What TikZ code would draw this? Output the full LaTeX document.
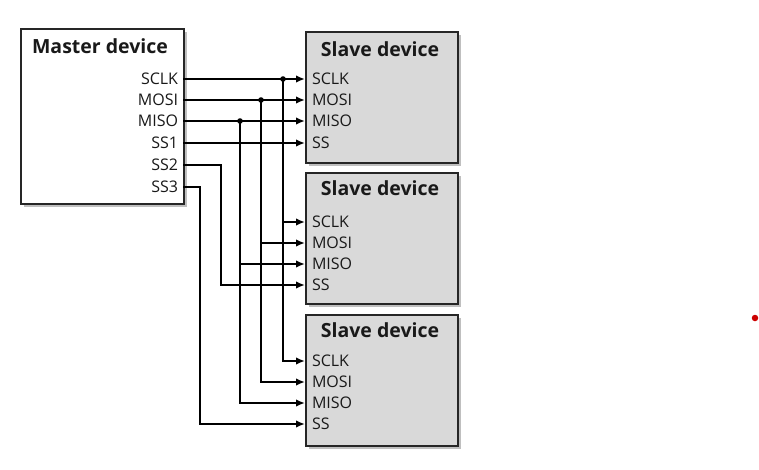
\documentclass[tikz,border=0pt]{standalone}
\usepackage{fontspec}
\setmainfont{Open Sans}
\usetikzlibrary{arrows.meta,shadows}

\begin{document}
\begin{tikzpicture}[x=1pt,y=-1pt]
  \tikzset{MasterStyle/.style = {
    shape         = rectangle,
    draw          = black!85,
    fill          = white,
    line width    = 2pt,
    anchor        = north west,
    minimum width = 163pt,
    minimum height= 175pt,
    drop shadow   = {opacity=0.5, shadow xshift=3pt, shadow yshift=-3pt}
    }
  }
  \tikzset{SlaveStyle/.style = {
    MasterStyle,
    fill          = black!15,
    minimum width = 152pt,
    minimum height= 131pt
    }
  }
  \tikzset{TitleStyle/.style = {
    font          = \fontsize{19.5}{22}\selectfont\bfseries,
    text          = black!90,
    inner sep     = 0pt
    }
  }
  \tikzset{OutPinStyle/.style = {
    font          = \fontsize{16}{18}\selectfont,
    text          = black!90,
    anchor        = east,
    inner xsep    = 5pt,
    inner ysep    = 0pt,
    outer sep     = 0pt
    }
  }
  \tikzset{InPinStyle/.style = {
    OutPinStyle,
    anchor        = west,
    inner xsep    = 7pt
    }
  }
  \tikzset{EdgeStyle/.style = {
    draw          = black,
    line width    = 2.2pt,
    -{Latex[length=9pt,width=7.5pt]}
    }
  }
  \tikzset{DotStyle/.style = {
    fill          = black
    }
  }

  \useasboundingbox (0,0) rectangle (759,469);

	% boxes
	\node[MasterStyle](M) at (20, 28) {};
	\node[SlaveStyle](Sa) at (305, 31) {};
	\node[SlaveStyle](Sb) at (305, 172) {};
	\node[SlaveStyle](Sc) at (305, 314) {};
	\node[TitleStyle](MT) at (100, 46) {Master device};
	\node[TitleStyle](SaT) at (380, 49) {Slave device};
	\node[TitleStyle](SbT) at (380, 188) {Slave device};
	\node[TitleStyle](ScT) at (380, 330) {Slave device};

	% master pins
	\node[OutPinStyle](MClk) at (183, 79) {SCLK};
	\node[OutPinStyle](MMosi) at (183, 100) {MOSI};
	\node[OutPinStyle](MMiso) at (183, 121) {MISO};
	\node[OutPinStyle](MSsOne) at (183, 143) {SS1};
	\node[OutPinStyle](MSsTwo) at (183, 165) {SS2};
	\node[OutPinStyle](MSsThree) at (183, 187) {SS3};

	% slave pins
	\node[InPinStyle](SaClk) at (305, 79) {SCLK};
	\node[InPinStyle](SaMosi) at (305, 100) {MOSI};
	\node[InPinStyle](SaMiso) at (305, 121) {MISO};
	\node[InPinStyle](SaSs) at (305, 143) {SS};
	\node[InPinStyle](SbClk) at (305, 222) {SCLK};
	\node[InPinStyle](SbMosi) at (305, 243) {MOSI};
	\node[InPinStyle](SbMiso) at (305, 264) {MISO};
	\node[InPinStyle](SbSs) at (305, 285) {SS};
	\node[InPinStyle](ScClk) at (305, 361) {SCLK};
	\node[InPinStyle](ScMosi) at (305, 382) {MOSI};
	\node[InPinStyle](ScMiso) at (305, 403) {MISO};
	\node[InPinStyle](ScSs) at (305, 424) {SS};

	% bus columns
	\coordinate (ClkBus) at (283, 0);
	\coordinate (MosiBus) at (261, 0);
	\coordinate (MisoBus) at (240, 0);
	\coordinate (SsTwoBus) at (221, 0);
	\coordinate (SsThreeBus) at (200, 0);

	\draw[EdgeStyle](MClk.east) -- (SaClk.west);
	\draw[EdgeStyle](MMosi.east) -- (SaMosi.west);
	\draw[EdgeStyle](MMiso.east) -- (SaMiso.west);
	\draw[EdgeStyle](MSsOne.east) -- (SaSs.west);
	\draw[EdgeStyle](ClkBus |- MClk.east) |- (SbClk.west);
	\draw[EdgeStyle](ClkBus |- MClk.east) |- (ScClk.west);
	\draw[EdgeStyle](MosiBus |- MMosi.east) |- (SbMosi.west);
	\draw[EdgeStyle](MosiBus |- MMosi.east) |- (ScMosi.west);
	\draw[EdgeStyle](MisoBus |- MMiso.east) |- (SbMiso.west);
	\draw[EdgeStyle](MisoBus |- MMiso.east) |- (ScMiso.west);
	\draw[EdgeStyle](MSsTwo.east) -| (SsTwoBus |- SbSs.west) -- (SbSs.west);
	\draw[EdgeStyle](MSsThree.east) -| (SsThreeBus |- ScSs.west) -- (ScSs.west);
	\fill[DotStyle](ClkBus |- MClk.east) circle (2.8pt);
	\fill[DotStyle](MosiBus |- MMosi.east) circle (2.8pt);
	\fill[DotStyle](MisoBus |- MMiso.east) circle (2.8pt);

	\node[circle, fill=red!80!black, inner sep=0pt, minimum size=6.5pt](RedDot) at (755, 318) {};

  \end{tikzpicture}
\end{document}
